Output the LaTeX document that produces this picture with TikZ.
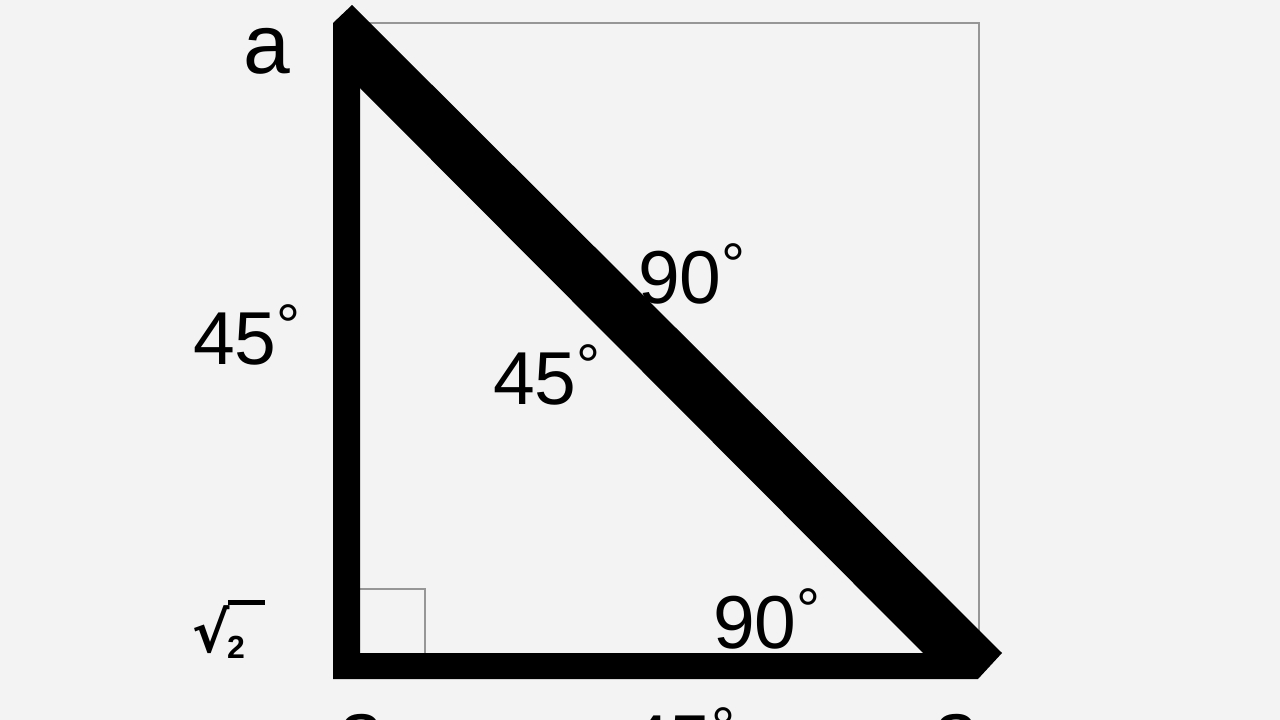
\documentclass[tikz,border=0pt]{standalone}
\usepackage{fontspec}
\setmainfont{Liberation Sans}
\newfontfamily\symfont{DejaVu Sans}
\definecolor{bgc}{RGB}{243,243,243}
\definecolor{thin}{RGB}{150,150,150}
\newcommand{\dg}{\raisebox{17.5pt}{\fontsize{60}{60}\selectfont °}}
\tikzset{
  lbl/.style={inner sep=0pt, outer sep=0pt, anchor=base west, text=black, font=\fontsize{75}{75}\selectfont},
  albl/.style={lbl, font=\fontsize{84}{84}\selectfont},
  thinline/.style={draw=thin, line width=1.5pt},
}
\begin{document}
\begin{tikzpicture}[x=1pt,y=-1pt]
\useasboundingbox (0,0) rectangle (1280,720);
\fill[bgc] (0,0) rectangle (1280,720);
% outer thin square (top and right sides)
\coordinate (sq1) at (352,23);
\coordinate (sq2) at (979,23);
\coordinate (sq3) at (979,640);
\draw[thinline] (sq1) -- (sq2) -- (sq3);
% right angle mark
\draw[thinline] (359,589) -- (425,589) -- (425,653);
% thick triangle
\fill[black, even odd rule]
  (333,23) -- (352,5) -- (1002,653) -- (978,679) -- (333,679) -- cycle
  (360,88) -- (360,653) -- (923,653) -- cycle;
% labels
\node[albl] (a1) at (243,73) {a};
\node[lbl] (l1) at (193,364) {45\dg};
\node[lbl] (l2) at (493,404) {45\dg};
\node[lbl] (l3) at (638,303) {90\dg};
\node[lbl] (l4) at (713,648) {90\dg};
\node[albl] (b1) at (338,759) {a};
\node[lbl] (b2) at (628,767) {45\dg};
\node[albl] (b3) at (933,759) {a};
% sqrt 2
\node[inner sep=0pt, anchor=base west] (s1) at (192,652) {\symfont\bfseries\fontsize{56}{56}\selectfont √};
\node[inner sep=0pt, anchor=base west] (s2) at (227,658) {\bfseries\fontsize{32}{32}\selectfont 2};
\fill[black] (228,600) rectangle (265,605);
\end{tikzpicture}
\end{document}
